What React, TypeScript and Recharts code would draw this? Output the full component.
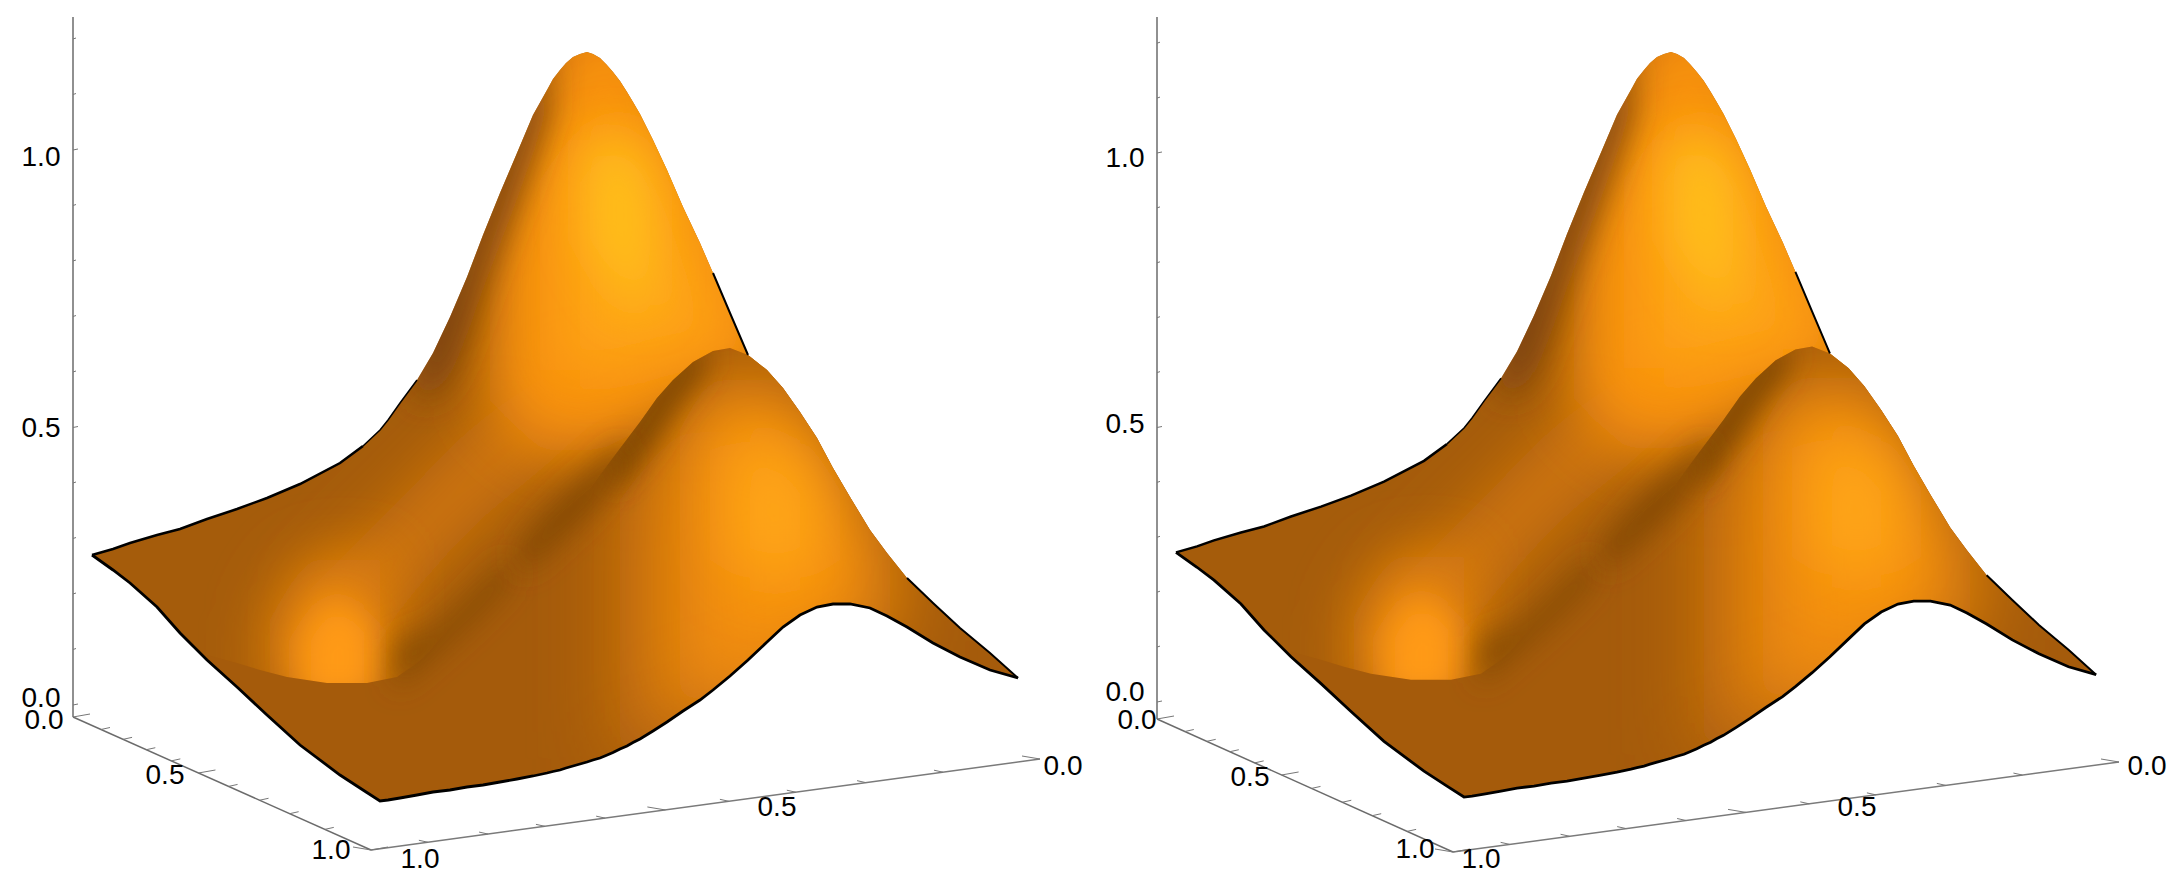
import React from 'react';
import { ComposedChart, Area, Line, XAxis, YAxis, ReferenceDot } from 'recharts';

const WIDTH = 2179;
const HEIGHT = 887;

// silhouette of the surface: x, top edge, bottom edge
const surfaceX = [92, 113, 130, 157, 180, 207, 237, 267, 300, 340, 363, 380, 388, 400, 417, 433, 450, 467, 483, 500, 517, 533, 547, 553, 560, 566, 573, 580, 587, 593, 600, 606, 613, 620, 627, 633, 640, 653, 667, 683, 700, 713, 730, 748, 767, 783, 800, 817, 833, 850, 870, 887, 907, 933, 960, 990, 1018];
const surfaceTop = [555, 549, 543, 535, 529, 519, 509, 498, 484, 463, 446, 430, 420, 403, 380, 353, 317, 277, 235, 193, 153, 115, 90, 79, 70, 63, 57, 54, 52, 54, 58, 64, 72, 81, 92, 102, 114, 140, 170, 207, 243, 273, 313, 355, 370, 388, 412, 438, 468, 497, 530, 553, 578, 603, 628, 653, 678];
const surfaceBottom = [555, 570, 583, 607, 633, 660, 687, 715, 745, 775, 790, 801, 800, 798, 795, 792, 790, 787, 785, 782, 779, 776, 773, 771.5, 770, 768, 766, 764, 762, 760, 758, 755.5, 752.5, 749, 746, 742.5, 739, 731, 722, 711, 700, 690, 676, 660, 642, 627, 615, 607, 604, 604, 608, 616, 627, 643, 657, 670, 678];

// edge between the front of the surface and what it hides
const frontEdge = [[207, 655], [237, 663], [260, 670], [287, 677], [327, 683], [367, 683], [397, 677], [417, 663], [430, 650], [460, 615], [500, 570], [540, 530], [570, 505], [591, 487], [612, 459], [640, 422], [657, 398], [673, 380], [693, 362], [713, 351], [730, 348], [748, 355]];

// shading patches: x, upper y, lower y
const ridgeBand = [[310, 590, 690], [350, 550, 680], [400, 500, 610], [470, 430, 530], [540, 380, 470], [600, 350, 420], [660, 340, 400]];
const hillMain = [[490, 250, 400], [520, 150, 430], [550, 40, 450], [590, 0, 450], [640, 20, 430], [700, 150, 400], [780, 300, 390]];
const hillMid = [[560, 180, 370], [620, 120, 370], [680, 200, 350], [720, 320, 350]];
const hillCore = [[590, 140, 240], [620, 140, 290], [650, 190, 310]];
const hillShadow = [[417, 340, 400], [433, 305, 395], [450, 275, 375], [467, 235, 335], [483, 190, 290], [500, 150, 245], [517, 110, 200], [533, 75, 155], [547, 50, 115]];
const dimpleWide = [[270, 620, 700], [320, 560, 700], [380, 560, 700]];
const dimpleCore = [[300, 640, 700], [335, 600, 700], [375, 630, 700]];
const creaseLower = [[395, 640, 690], [430, 630, 660], [470, 595, 625], [510, 555, 585]];
const creaseUpper = [[520, 545, 575], [560, 500, 540], [600, 465, 500], [625, 440, 465]];
const frontFloor = [[0, 0, 887], [1100, 0, 887]];
const frontWide = [[620, 500, 760], [700, 430, 740], [800, 440, 700]];
const frontGlow = [[680, 430, 700], [720, 380, 700], [780, 380, 680], [840, 470, 650], [890, 550, 640]];
const frontCore = [[730, 450, 560], [775, 440, 580], [820, 490, 560]];
const crestShadow = [[610, 455, 490], [630, 425, 470], [650, 395, 445], [680, 360, 400], [705, 340, 370]];

// axis marks
const zTicks = [0, 0.1, 0.2, 0.3, 0.4, 0.5, 0.6, 0.7, 0.8, 0.9, 1, 1.1, 1.2];
const sideTicks = [0, 0.094, 0.168, 0.246, 0.33, 0.421, 0.522, 0.626, 0.727, 0.845, 1];
const frontTicks = [0, 0.145, 0.26, 0.365, 0.465, 0.56, 0.65, 0.74, 0.825, 0.915, 1];

const leftView = {
  id: 'l',
  warp: (x: number, y: number) => [x, y],
  zAxisX: 73, zAxisTop: 17, zero: 705, one: 150,
  cornerA: [73, 717], cornerB: [371, 850], cornerC: [1040, 759],
  labels: [['1.0', 41, 156], ['0.5', 41, 427], ['0.0', 41, 697], ['0.0', 44, 719], ['0.5', 165, 774], ['1.0', 331, 849], ['1.0', 420, 858], ['0.5', 777, 806], ['0.0', 1063, 765]],
};
const rightView = {
  id: 'r',
  warp: (x: number, y: number) => [x + 1084 - Math.max(0, x - 600) * 0.0141, y - 0.0053 * (y - 53)],
  zAxisX: 1157, zAxisTop: 17, zero: 702, one: 153,
  cornerA: [1157, 719], cornerB: [1453, 852], cornerC: [2119, 762],
  labels: [['1.0', 1125, 157], ['0.5', 1125, 423], ['0.0', 1125, 691], ['0.0', 1137, 719], ['0.5', 1250, 776], ['1.0', 1415, 848], ['1.0', 1481, 858], ['0.5', 1857, 806], ['0.0', 2147, 765]],
};

const FONT = "'Liberation Sans', Arial, sans-serif";

function patchRows(view: any, rows: number[][]) {
  return rows.map(([x, lo, hi]) => {
    const [a, b] = view.warp(x, lo);
    const [, c] = view.warp(x, hi);
    return { x: a, band: [c, b] };
  });
}

function linePoints(view: any, rows: number[][]) {
  return rows.map(([x, y]) => {
    const [a, b] = view.warp(x, y);
    return { x: a, y: b };
  });
}

function edgeRows(ys: number[], from: number, to: number) {
  return surfaceX.map((x, i) => [x, ys[i]]).filter(([x]) => x >= from && x <= to);
}

function tickSeries(a: number[], b: number[], fractions: number[], minor: number[], major: number[]) {
  const out: any[] = [];
  fractions.forEach((f, i) => {
    const x = a[0] + (b[0] - a[0]) * f;
    const y = a[1] + (b[1] - a[1]) * f;
    const d = i % 5 === 0 ? major : minor;
    out.push({ x, y }, { x: x + d[0], y: y + d[1] }, { x, y: null });
  });
  return out;
}

function renderView(view: any) {
  const frontOutline = [
    ...frontEdge,
    ...edgeRows(surfaceTop, 749, 1018),
    ...edgeRows(surfaceBottom, 207, 1018).reverse(),
  ];
  const surfaceOutline = [...edgeRows(surfaceTop, 0, 1018), ...edgeRows(surfaceBottom, 0, 1018).reverse()];
  const poly = (rows: number[][]) => linePoints(view, rows).map((p) => `${p.x},${p.y}`).join(' ');
  const backClip = `url(#${view.id}-back)`;
  const frontClip = `url(#${view.id}-front)`;

  const flat = (key: string, rows: number[][], fill: string, clip: string) => (
    <Area
      key={view.id + key}
      data={patchRows(view, rows)}
      dataKey="band"
      type="linear"
      fill={fill}
      fillOpacity={1}
      stroke="none"
      clipPath={clip}
      dot={false}
      activeDot={false}
      isAnimationActive={false}
    />
  );
  const patch = (key: string, rows: number[][], fill: string, blur: number, clip: string, opacity = 1) => (
    <Area
      key={view.id + key}
      data={patchRows(view, rows)}
      dataKey="band"
      type="monotone"
      fill={fill}
      fillOpacity={opacity}
      stroke="none"
      filter={`url(#blur${blur})`}
      clipPath={clip}
      dot={false}
      activeDot={false}
      isAnimationActive={false}
    />
  );
  const line = (key: string, data: any[], color: string, width: number) => (
    <Line
      key={view.id + key}
      data={data}
      dataKey="y"
      type="linear"
      stroke={color}
      strokeWidth={width}
      dot={false}
      activeDot={false}
      isAnimationActive={false}
    />
  );
  const outline = (key: string, rows: number[][], width: number) => line(key, linePoints(view, rows), '#000', width);
  const zTickData: any[] = [];
  zTicks.forEach((v, i) => {
    const y = view.zero + (view.one - view.zero) * v;
    const len = i % 5 === 0 ? 5 : 3;
    zTickData.push({ x: view.zAxisX, y }, { x: view.zAxisX + len, y: y - 1 }, { x: view.zAxisX, y: null });
  });

  return [
    <defs key={view.id + 'defs'}>
      <clipPath id={`${view.id}-back`}><polygon points={poly(surfaceOutline)} /></clipPath>
      <clipPath id={`${view.id}-front`}><polygon points={poly(frontOutline)} /></clipPath>
    </defs>,
    flat('base', surfaceX.map((x, i) => [x, surfaceTop[i], surfaceBottom[i]]), '#a55c0b', ''),
    patch('ridge', ridgeBand, '#cf7510', 30, backClip),
    patch('hill', hillMain, '#f8910f', 30, backClip),
    patch('mid', hillMid, '#fea515', 30, backClip),
    patch('core', hillCore, '#ffc01c', 24, backClip),
    patch('shadow', hillShadow, '#74400a', 16, backClip, 0.8),
    patch('dimpleW', dimpleWide, '#e58410', 30, backClip),
    patch('dimpleC', dimpleCore, '#ff9a14', 16, backClip),
    patch('creaseL', creaseLower, '#7e4606', 14, backClip, 0.75),
    patch('creaseU', creaseUpper, '#7e4606', 14, backClip, 0.85),
    flat('floor', frontFloor, '#a55b0b', frontClip),
    patch('wide', frontWide, '#cf7510', 40, frontClip),
    patch('glow', frontGlow, '#f5900f', 40, frontClip),
    patch('fcore', frontCore, '#ffa616', 30, frontClip),
    patch('crest', crestShadow, '#7a4405', 14, frontClip),
    patch('creaseLF', creaseLower, '#7e4606', 14, frontClip, 0.75),
    patch('creaseUF', creaseUpper, '#7e4606', 14, frontClip, 0.85),
    outline('o1', edgeRows(surfaceTop, 0, 363), 2.5),
    outline('o1b', edgeRows(surfaceTop, 363, 417), 1.5),
    outline('o2', edgeRows(surfaceTop, 713, 748), 2),
    outline('o3', edgeRows(surfaceTop, 907, 1018), 2),
    outline('o4', edgeRows(surfaceBottom, 0, 1018), 2.8),
    line('zA', [{ x: view.zAxisX, y: view.zAxisTop }, { x: view.zAxisX, y: view.cornerA[1] }], '#6b6b6b', 1.5),
    line('fA', [{ x: view.cornerA[0], y: view.cornerA[1] }, { x: view.cornerB[0], y: view.cornerB[1] }], '#6b6b6b', 1.5),
    line('fB', [{ x: view.cornerB[0], y: view.cornerB[1] }, { x: view.cornerC[0], y: view.cornerC[1] }], '#7a7a7a', 1.5),
    line('zT', zTickData, '#777', 1),
    line('sT', tickSeries(view.cornerA, view.cornerB, sideTicks, [9, -2], [17, -3]), '#777', 1),
    line('fT', tickSeries(view.cornerC, view.cornerB, frontTicks, [-9, -2], [-18, -3]), '#777', 1),
    ...view.labels.map(([text, x, y]: any, i: number) => (
      <ReferenceDot
        key={view.id + 'label' + i}
        x={x}
        y={y}
        r={0}
        fill="none"
        stroke="none"
        label={{ value: text, position: 'center', fontSize: 28, fill: '#000', fontFamily: FONT }}
      />
    )),
  ];
}

const blurs = [14, 16, 24, 30, 40];

export default function App() {
  return (
    <div style={{ position: 'absolute', left: 0, top: 0, width: WIDTH, height: HEIGHT, background: '#fff' }}>
      <ComposedChart width={WIDTH} height={HEIGHT} margin={{ top: 0, right: 0, bottom: 0, left: 0 }}>
        <defs>
          {blurs.map((b) => (
            <filter key={b} id={`blur${b}`} x="-150%" y="-150%" width="400%" height="400%">
              <feGaussianBlur stdDeviation={b} />
            </filter>
          ))}
        </defs>
        <XAxis dataKey="x" type="number" domain={[0, WIDTH]} hide />
        <YAxis type="number" domain={[0, HEIGHT]} reversed hide />
        {renderView(leftView)}
        {renderView(rightView)}
      </ComposedChart>
    </div>
  );
}
